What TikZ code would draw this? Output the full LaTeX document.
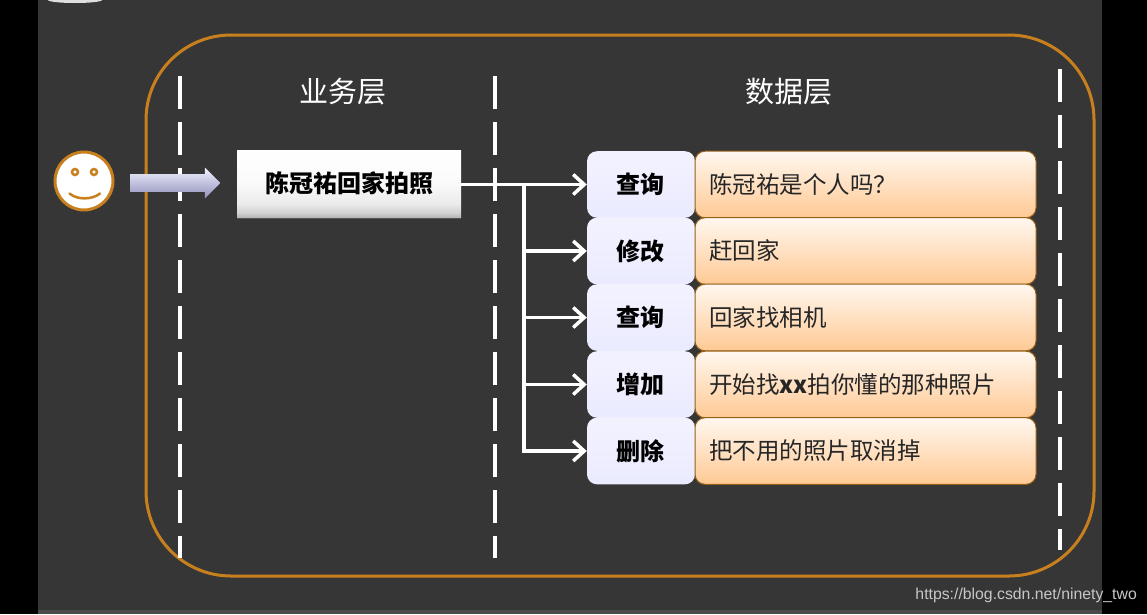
\documentclass[tikz,border=0pt]{standalone}
\usepackage{fontspec}
\setmainfont{Noto Sans CJK SC}
\newfontfamily\wmfont{Liberation Sans}
\usetikzlibrary{arrows.meta,shapes.arrows,shadows}
\definecolor{panel}{HTML}{363636}
\definecolor{edgeor}{HTML}{C8801E}
\pgfdeclareverticalshading{bizshade}{100bp}{
  color(0bp)=(white!72!black); color(25bp)=(white!72!black); color(28bp)=(white!82!black); color(35bp)=(white!92!black);
  color(50bp)=(white!98!black); color(75bp)=(white); color(100bp)=(white)}
\tikzset{
  border/.style={draw=edgeor,line width=3pt,rounded corners=85pt},
  lane/.style={draw=white,line width=3.6pt,dash pattern=on 33pt off 13pt},
  head/.style={text=white,font=\fontsize{29}{32}\selectfont,anchor=center,inner sep=0pt},
  biz/.style={minimum width=224pt,minimum height=67pt,inner sep=0pt,shading=bizshade,
    font=\bfseries\fontsize{24}{28}\selectfont,text=black},
  opbox/.style={rounded corners=10pt,minimum width=108pt,minimum height=66.6pt,inner sep=0pt,
    top color=white!95!blue,bottom color=blue!8!white,
    font=\bfseries\fontsize{24}{28}\selectfont,text=black},
  descbox/.style={draw=edgeor!75!black,line width=1pt,rounded corners=10pt,minimum width=341pt,minimum height=66.6pt,inner sep=0pt,
    top color=orange!6!white,bottom color=orange!42!white,
    font=\fontsize{23.5}{28}\selectfont,text=black!85,text width=313pt,align=left},
  wire/.style={draw=white,line width=3.5pt},
  go/.style={wire,-{Straight Barb[length=11pt,width=20pt,line width=3.5pt]}},
  inarrow/.style={single arrow,minimum width=31pt,minimum height=90pt,single arrow head extend=6.5pt,inner sep=8.5pt,
    top color=white!95!blue,bottom color=blue!25!gray!70!white,shading angle=0},
}
\begin{document}
\begin{tikzpicture}[x=1pt,y=-1pt]
\useasboundingbox (0,0) rectangle (1147,614);
\fill[black] (0,0) rectangle (1147,614);
\fill[panel] (38,0) rectangle (1102,614);
\fill[white!10!panel] (38,610) rectangle (1102,614);
\fill[white!75!gray] (75,0) ellipse [x radius=27,y radius=3];
\draw[border] (146,35) rectangle (1094,576);
\draw[lane] (180,76) -- (180,558);
\draw[lane] (495,76) -- (495,558);
\draw[lane] (1060,69) -- (1060,550);
\node[head] (h1) at (342.5,92) {业务层};
\node[head] (h2) at (788.5,92) {数据层};
\node[circle,draw=edgeor,line width=3pt,fill=white,minimum size=58pt,inner sep=0pt] (face) at (84,181) {};
\fill[white,draw=edgeor,line width=2.5pt] (75,172) circle (3pt) (94,172) circle (3pt);
\draw[edgeor,line width=2.5pt,line cap=round] (69.5,193.5) .. controls (77,200) and (92,200) .. (100,193.5);
\node[biz,drop shadow={shadow xshift=0pt,shadow yshift=-1.5pt,opacity=.4}] (b) at (349,183.5) {陈冠祐回家拍照};
\node[inarrow] (enter) at (171,183) {};
\foreach \n/\y/\op/\txt in {1/184.5/查询/陈冠祐是个人吗？,2/251/修改/赶回家,3/317.5/查询/回家找相机,4/384.5/增加/开始找\textbf{xx}拍你懂的那种照片,5/451/删除/把不用的照片取消掉}{
  \node[opbox] (o\n) at (641,\y) {\kern-2pt\op};
  \node[descbox] (d\n) at (865.5,\y) {\txt};
}
\coordinate (t1) at (524,184.5);
\coordinate (t2) at (524,251);
\coordinate (t3) at (524,317.5);
\coordinate (t4) at (524,384.5);
\coordinate (t5) at (524,451);
\draw[wire] (b.east |- t1) -- (t1);
\draw[wire,line cap=rect] (t1) -- (t5);
\foreach \n in {1,...,5}{\draw[go] (t\n) -- (o\n.west);}
\node[anchor=east,text=white!78!black,font=\wmfont\fontsize{15.8}{18}\selectfont,inner sep=0pt] (wm) at (1137,595) {https://blog.csdn.net/ninety\_two};
\end{tikzpicture}
\end{document}
